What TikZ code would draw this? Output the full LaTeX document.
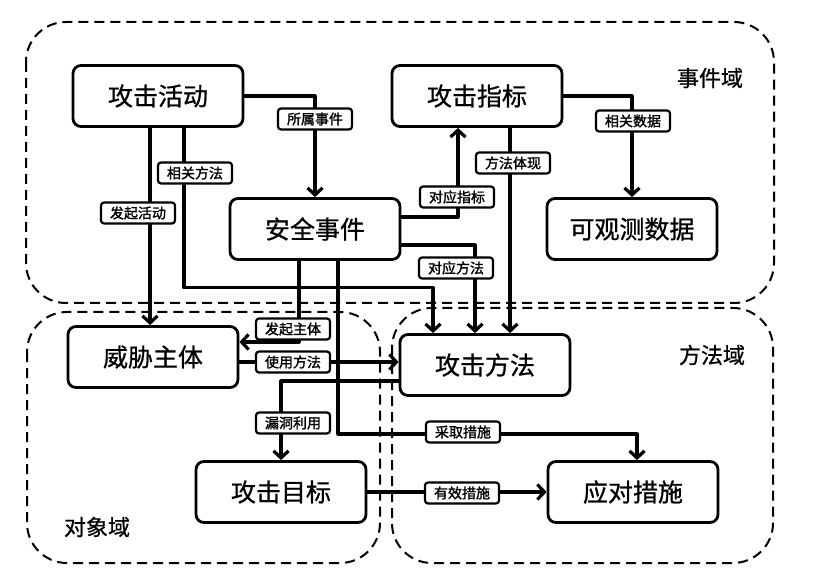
\documentclass[tikz,border=0pt]{standalone}
\usepackage{fontspec}
\setmainfont{Noto Sans CJK SC}
\newfontfamily\tagfont[FakeBold=1.6]{Noto Sans CJK SC}
\newfontfamily\itemfont[FakeBold=0.8]{Noto Sans CJK SC}
\usetikzlibrary{arrows.meta}
\newcommand{\boxFont}[0]{\itemfont\fontsize{25pt}{25pt}\selectfont}

\begin{document}
\begin{tikzpicture}[x=1pt, y=-1pt, line join=round]
  \tikzset{
    item/.style={draw, line width=2.8pt, rounded corners=8pt, fill=white,
      minimum width=170pt, minimum height=61pt, font=\boxFont},
    tag/.style={draw, line width=2.2pt, rounded corners=3pt, fill=white,
      minimum width=74pt, minimum height=21pt, inner sep=0pt,
      font=\tagfont\fontsize{14pt}{14pt}\selectfont},
    link/.style={line width=3.2pt, -{Straight Barb[length=7pt,width=15pt]}},
    zonebox/.style={dashed, dash pattern=on 10pt off 6pt, line width=2pt, rounded corners=40pt},
    zonename/.style={font=\itemfont\fontsize{22pt}{22pt}\selectfont}
  }
  \useasboundingbox (0,0) rectangle (828,580);
  % domains
  \draw[zonebox] (26,22) rectangle (774,303);
  \draw[zonebox] (27,312) rectangle (380,563);
  \draw[zonebox] (392,308) rectangle (773,563);
  \node[zonename] (event-zone) at (710,78) {事件域};
  \node[zonename] (method-zone) at (712,355) {方法域};
  \node[zonename] (object-zone) at (97,527) {对象域};
  % boxes
  \node[item] (act) at (158,96) {攻击活动};
  \node[item] (ind) at (477,96) {攻击指标};
  \node[item] (evt) at (315,229) {安全事件};
  \node[item] (obs) at (632,229) {可观测数据};
  \node[item] (thr) at (153,357) {威胁主体};
  \node[item] (mth) at (485,365) {攻击方法};
  \node[item] (tgt) at (281,492) {攻击目标};
  \node[item] (res) at (633,492) {应对措施};
  % links
  \draw[link] (act.east) -| (evt.north);
  \draw[link] ([xshift=-8pt]act.south) -- ([xshift=-8pt]act.south |- thr.north);
  \draw[link] ([xshift=26pt]act.south) -- ++(0,160) -| ([xshift=-52pt]mth.north);
  \draw[link] ([yshift=12pt]evt.east) -| ([xshift=-19pt]ind.south);
  \draw[link] ([yshift=-16pt]evt.east) -| ([xshift=-10pt]mth.north);
  \draw[link] ([xshift=33pt]ind.south) -- ([xshift=33pt]ind.south |- mth.north);
  \draw[link] (ind.east) -| (obs.north);
  \draw[link] ([xshift=-16pt]evt.south) |- ([yshift=15pt]thr.east);
  \draw[link] ([xshift=23pt]evt.south) -- ++(0,173) -| ([xshift=4pt]res.north);
  \draw[link] ([yshift=-5pt]thr.east) -- ([yshift=-5pt]thr.east -| mth.west);
  \draw[link] ([yshift=-16pt]mth.west) -| (tgt.north);
  \draw[link] (tgt.east) -- (res.west);
  % tags
  \node[tag] (tag-belong) at (315,119) {所属事件};
  \node[tag] (tag-launch) at (138,213) {发起活动};
  \node[tag] (tag-relmethod) at (195,173) {相关方法};
  \node[tag] (tag-indicator) at (457,197) {对应指标};
  \node[tag] (tag-method) at (456,268) {对应方法};
  \node[tag] (tag-embody) at (513,163) {方法体现};
  \node[tag] (tag-data) at (633,121) {相关数据};
  \node[tag] (tag-actor) at (293,329) {发起主体};
  \node[tag] (tag-take) at (463,432) {采取措施};
  \node[tag] (tag-use) at (293,362) {使用方法};
  \node[tag] (tag-exploit) at (293,423) {漏洞利用};
  \node[tag] (tag-valid) at (462,493) {有效措施};
\end{tikzpicture}
\end{document}
